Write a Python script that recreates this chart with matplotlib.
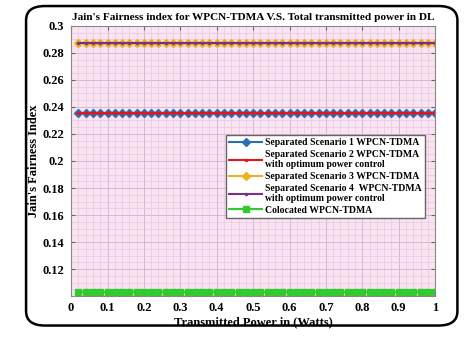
import numpy as np
import matplotlib
matplotlib.use("Agg")
import matplotlib.pyplot as plt
from matplotlib.patches import FancyBboxPatch
from matplotlib.ticker import MultipleLocator

# ---- data ----
power = [round(0.02 * k, 2) for k in range(1, 51)]   # 0.02 .. 1.00 W
scenario1 = [0.2353] * len(power)
scenario2 = [0.2353] * len(power)
scenario3 = [0.2874] * len(power)
scenario4 = [0.2874] * len(power)
colocated = [0.1030] * len(power)

labels = [
    "Separated Scenario 1 WPCN-TDMA",
    "Separated Scenario 2 WPCN-TDMA\nwith optimum power control",
    "Separated Scenario 3 WPCN-TDMA",
    "Separated Scenario 4  WPCN-TDMA\nwith optimum power control",
    "Colocated WPCN-TDMA",
]
xtick_labels = ["0", "0.1", "0.2", "0.3", "0.4", "0.5", "0.6", "0.7", "0.8", "0.9", "1"]
ytick_labels = ["0.12", "0.14", "0.16", "0.18", "0.2", "0.22", "0.24", "0.26", "0.28", "0.3"]

plt.rcParams["font.family"] = ["Liberation Serif", "DejaVu Serif"]
plt.rcParams["font.weight"] = "bold"

fig = plt.figure(figsize=(4.74, 3.55), dpi=100)
ax = fig.add_axes([0.150, 0.166, 0.768, 0.761])

# rounded frame around the figure
frame = FancyBboxPatch((0.055, 0.083), 0.91, 0.9,
                       boxstyle="round,pad=0,rounding_size=0.04",
                       transform=fig.transFigure, facecolor="none",
                       edgecolor="black", linewidth=1.8, zorder=0)
fig.patches.append(frame)

ax.set_facecolor("#fbe4f1")

ax.plot(power, scenario1, color="#2A6FB5", marker="D", markersize=4.5,
        linewidth=1.5, label=labels[0])
ax.plot(power, scenario2, color="#E8141C", marker=".", markersize=3,
        linewidth=1.5, label=labels[1])
ax.plot(power, scenario3, color="#EDB120", marker="D", markersize=4.5,
        linewidth=1.5, label=labels[2])
ax.plot(power, scenario4, color="#7E2F8E", marker=".", markersize=3,
        linewidth=1.5, label=labels[3])
ax.plot(power, colocated, color="#2ECC2E", marker="s", markersize=4.5,
        linewidth=1.5, label=labels[4])

ax.set_xlim(0, 1)
ax.set_ylim(0.1, 0.3)
ax.xaxis.set_minor_locator(MultipleLocator(0.02))
ax.yaxis.set_minor_locator(MultipleLocator(0.005))
ax.set_xticks(np.linspace(0, 1, 11))
ax.set_xticklabels(xtick_labels)
ax.set_yticks(np.linspace(0.12, 0.3, 10))
ax.set_yticklabels(ytick_labels)

ax.grid(True, which="major", color="#d8b6d2", linewidth=0.7)
ax.grid(True, which="minor", color="#e6c8e0", linewidth=0.5)
ax.set_axisbelow(True)
ax.tick_params(which="both", direction="in", top=True, right=True,
               labelsize=9, colors="#666666", labelcolor="black")
ax.tick_params(which="minor", length=0)
ax.tick_params(which="major", length=3)
ax.tick_params(axis="x", which="major", pad=4)
ax.tick_params(axis="y", which="major", pad=5)
for s in ax.spines.values():
    s.set_color("#888888")
    s.set_linewidth(0.8)

ax.set_title("Jain's Fairness index for WPCN-TDMA V.S. Total transmitted power in DL",
             fontsize=8.1, fontweight="bold", pad=4)
ax.set_xlabel("Transmitted Power in (Watts)", fontsize=9, fontweight="bold", va="center")
ax.xaxis.set_label_coords(0.5, -0.097)
ax.set_ylabel("Jain's Fairness Index", fontsize=9, fontweight="bold", labelpad=2)

ax.legend(loc="upper left", bbox_to_anchor=(0.412, 0.615),
          frameon=True, fancybox=False, edgecolor="#666666", framealpha=1,
          handlelength=3.4, handletextpad=0.3, borderpad=0.35,
          labelspacing=0.28, prop={"weight": "bold", "size": 7.0})

fig.savefig("out.png", dpi=100)
